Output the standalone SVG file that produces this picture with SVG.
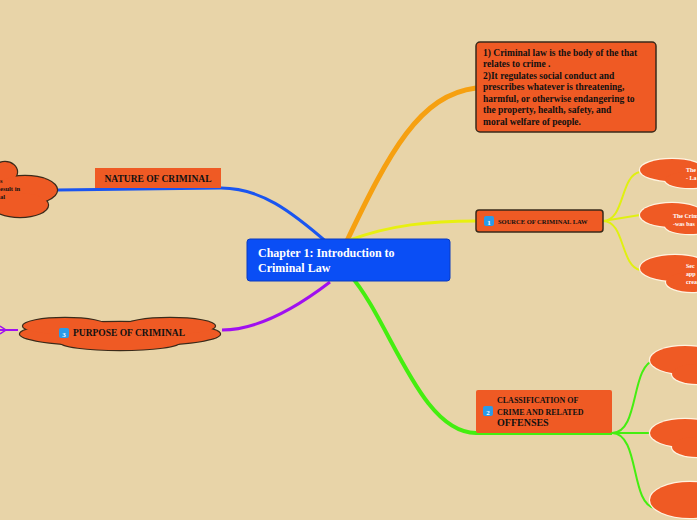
<svg xmlns="http://www.w3.org/2000/svg" width="697" height="520" viewBox="0 0 697 520">
<style>
.t{font-family:"Liberation Serif",serif;font-weight:bold;fill:#111}
.w{font-family:"Liberation Serif",serif;font-weight:bold;fill:#fff}
.o{fill:#ef5a24}
.cs{fill:none;stroke:#3a2a1a;stroke-width:2.4}
.cw{fill:none;stroke:#fff3e0;stroke-width:2.4}
.c{fill:#ef5a24}
</style>
<rect width="697" height="520" fill="#e8d4a8"/>
<g id="connectors" fill="none">
<path d="M345,245 C390,150 420,95 476,88" stroke="#f6a010" stroke-width="5"/>
<path d="M350,240 C390,225 430,221 476,221" stroke="#e8f010" stroke-width="3"/>
<path d="M350,275 C390,320 420,433 476,433 L612,433" stroke="#44ee10" stroke-width="4"/>
<path d="M330,245 C290,210 260,188 221,188 L57,190" stroke="#1a55f0" stroke-width="3"/>
<path d="M330,282 C300,305 260,330 222,330" stroke="#a010f0" stroke-width="3"/>
<path d="M18,330 L0,330" stroke="#a010f0" stroke-width="2"/>
<path d="M603,221 C625,221 620,175 640,172 M603,221 L640,215 M603,221 C625,221 620,265 640,270" stroke="#e0f010" stroke-width="2"/>
<path d="M612,433 C640,433 630,365 655,360 M612,433 L655,433 M612,433 C640,433 630,505 655,508" stroke="#44ee10" stroke-width="2"/>
</g>
<g id="center">
<rect x="247" y="239" width="203" height="42" rx="3" fill="#0a4ef5" stroke="#0a3ac0"/>
<text x="258" y="257" class="w" font-size="12">Chapter 1: Introduction to</text>
<text x="258" y="272" class="w" font-size="12">Criminal Law</text>
</g>
<g id="definition">
<rect x="476" y="42" width="180" height="90" rx="4" class="o" stroke="#3a2a1a" stroke-width="1.5"/>
<text class="t" font-size="9.5"><tspan x="483" y="56">1) Criminal law is the body of the that</tspan><tspan x="483" y="67">relates to crime .</tspan><tspan x="483" y="79">2)It regulates social conduct and</tspan><tspan x="483" y="90">prescribes whatever is threatening,</tspan><tspan x="483" y="102">harmful, or otherwise endangering to</tspan><tspan x="483" y="113">the property, health, safety, and</tspan><tspan x="483" y="125">moral welfare of people.</tspan></text>
</g>
<g id="source">
<rect x="476" y="210" width="127" height="22" rx="3" class="o" stroke="#3a2a1a" stroke-width="1.5"/>
<rect x="484" y="216" width="10" height="10" rx="2" fill="#2a9ae8"/>
<text x="489" y="224.5" class="w" font-size="7" text-anchor="middle">1</text>
<text x="498" y="224" class="t" font-size="6.5">SOURCE OF CRIMINAL LAW</text>
</g>
<g id="classification">
<rect x="476" y="390" width="136" height="43" rx="2" class="o"/>
<rect x="483" y="406" width="10" height="10" rx="2" fill="#2a9ae8"/>
<text x="488" y="414.5" class="w" font-size="7" text-anchor="middle">2</text>
<text class="t" font-size="8"><tspan x="497" y="403">CLASSIFICATION OF</tspan><tspan x="497" y="415">CRIME AND RELATED</tspan><tspan x="497" y="426" font-size="10">OFFENSES</tspan></text>
</g>
<g id="nature">
<rect x="95" y="168" width="126" height="20" class="o"/>
<text x="158" y="182" class="t" font-size="9.5" text-anchor="middle">NATURE OF CRIMINAL</text>
</g>
<g id="nature-cloud">
<g class="cs"><ellipse cx="5" cy="172" rx="12" ry="10"/><ellipse cx="25" cy="190" rx="32" ry="14"/><ellipse cx="20" cy="205" rx="28" ry="12"/></g>
<g class="c"><ellipse cx="5" cy="172" rx="12" ry="10"/><ellipse cx="25" cy="190" rx="32" ry="14"/><ellipse cx="20" cy="205" rx="28" ry="12"/></g>
<text class="t" font-size="6.5"><tspan x="0" y="183">s</tspan><tspan x="0" y="191">esult in</tspan><tspan x="0" y="199">al</tspan></text>
</g>
<g id="purpose">
<g class="cs"><ellipse cx="120" cy="334" rx="100" ry="12"/><ellipse cx="65" cy="326" rx="42" ry="8"/><ellipse cx="170" cy="326" rx="45" ry="8"/><ellipse cx="120" cy="342" rx="60" ry="8"/></g>
<g class="c"><ellipse cx="120" cy="334" rx="100" ry="12"/><ellipse cx="65" cy="326" rx="42" ry="8"/><ellipse cx="170" cy="326" rx="45" ry="8"/><ellipse cx="120" cy="342" rx="60" ry="8"/></g>
<rect x="59" y="328" width="10" height="10" rx="2" fill="#2a9ae8"/>
<text x="64" y="336.5" class="w" font-size="7" text-anchor="middle">3</text>
<text x="73" y="336" class="t" font-size="9.5">PURPOSE OF CRIMINAL</text>
<path d="M0,326 L6,330 L0,334" fill="none" stroke="#a010f0" stroke-width="1.5"/>
</g>
<g id="src-1">
<g class="cw"><ellipse cx="672" cy="170" rx="32" ry="11"/><ellipse cx="690" cy="180" rx="25" ry="8"/></g>
<g class="c"><ellipse cx="672" cy="170" rx="32" ry="11"/><ellipse cx="690" cy="180" rx="25" ry="8"/></g>
<text class="w" font-size="6"><tspan x="686" y="172">The</tspan><tspan x="686" y="180">- La</tspan></text>
</g>
<g id="src-2">
<g class="cw"><ellipse cx="672" cy="215" rx="32" ry="12"/><ellipse cx="690" cy="226" rx="25" ry="8"/></g>
<g class="c"><ellipse cx="672" cy="215" rx="32" ry="12"/><ellipse cx="690" cy="226" rx="25" ry="8"/></g>
<text class="w" font-size="6"><tspan x="673" y="218">The Crim</tspan><tspan x="673" y="226">-was bas</tspan></text>
</g>
<g id="src-3">
<g class="cw"><ellipse cx="675" cy="268" rx="35" ry="13"/><ellipse cx="692" cy="282" rx="26" ry="10"/></g>
<g class="c"><ellipse cx="675" cy="268" rx="35" ry="13"/><ellipse cx="692" cy="282" rx="26" ry="10"/></g>
<text class="w" font-size="6"><tspan x="686" y="268">Sec</tspan><tspan x="686" y="276">app</tspan><tspan x="686" y="284">crea</tspan></text>
</g>
<g id="cls-1">
<g class="cw"><ellipse cx="685" cy="360" rx="35" ry="14"/><ellipse cx="697" cy="374" rx="25" ry="10"/></g>
<g class="c"><ellipse cx="685" cy="360" rx="35" ry="14"/><ellipse cx="697" cy="374" rx="25" ry="10"/></g>
</g>
<g id="cls-2">
<g class="cw"><ellipse cx="685" cy="433" rx="35" ry="14"/><ellipse cx="697" cy="447" rx="25" ry="10"/></g>
<g class="c"><ellipse cx="685" cy="433" rx="35" ry="14"/><ellipse cx="697" cy="447" rx="25" ry="10"/></g>
</g>
<g id="cls-3">
<g class="cw"><ellipse cx="690" cy="500" rx="40" ry="18"/></g>
<g class="c"><ellipse cx="690" cy="500" rx="40" ry="18"/></g>
</g>
</svg>
